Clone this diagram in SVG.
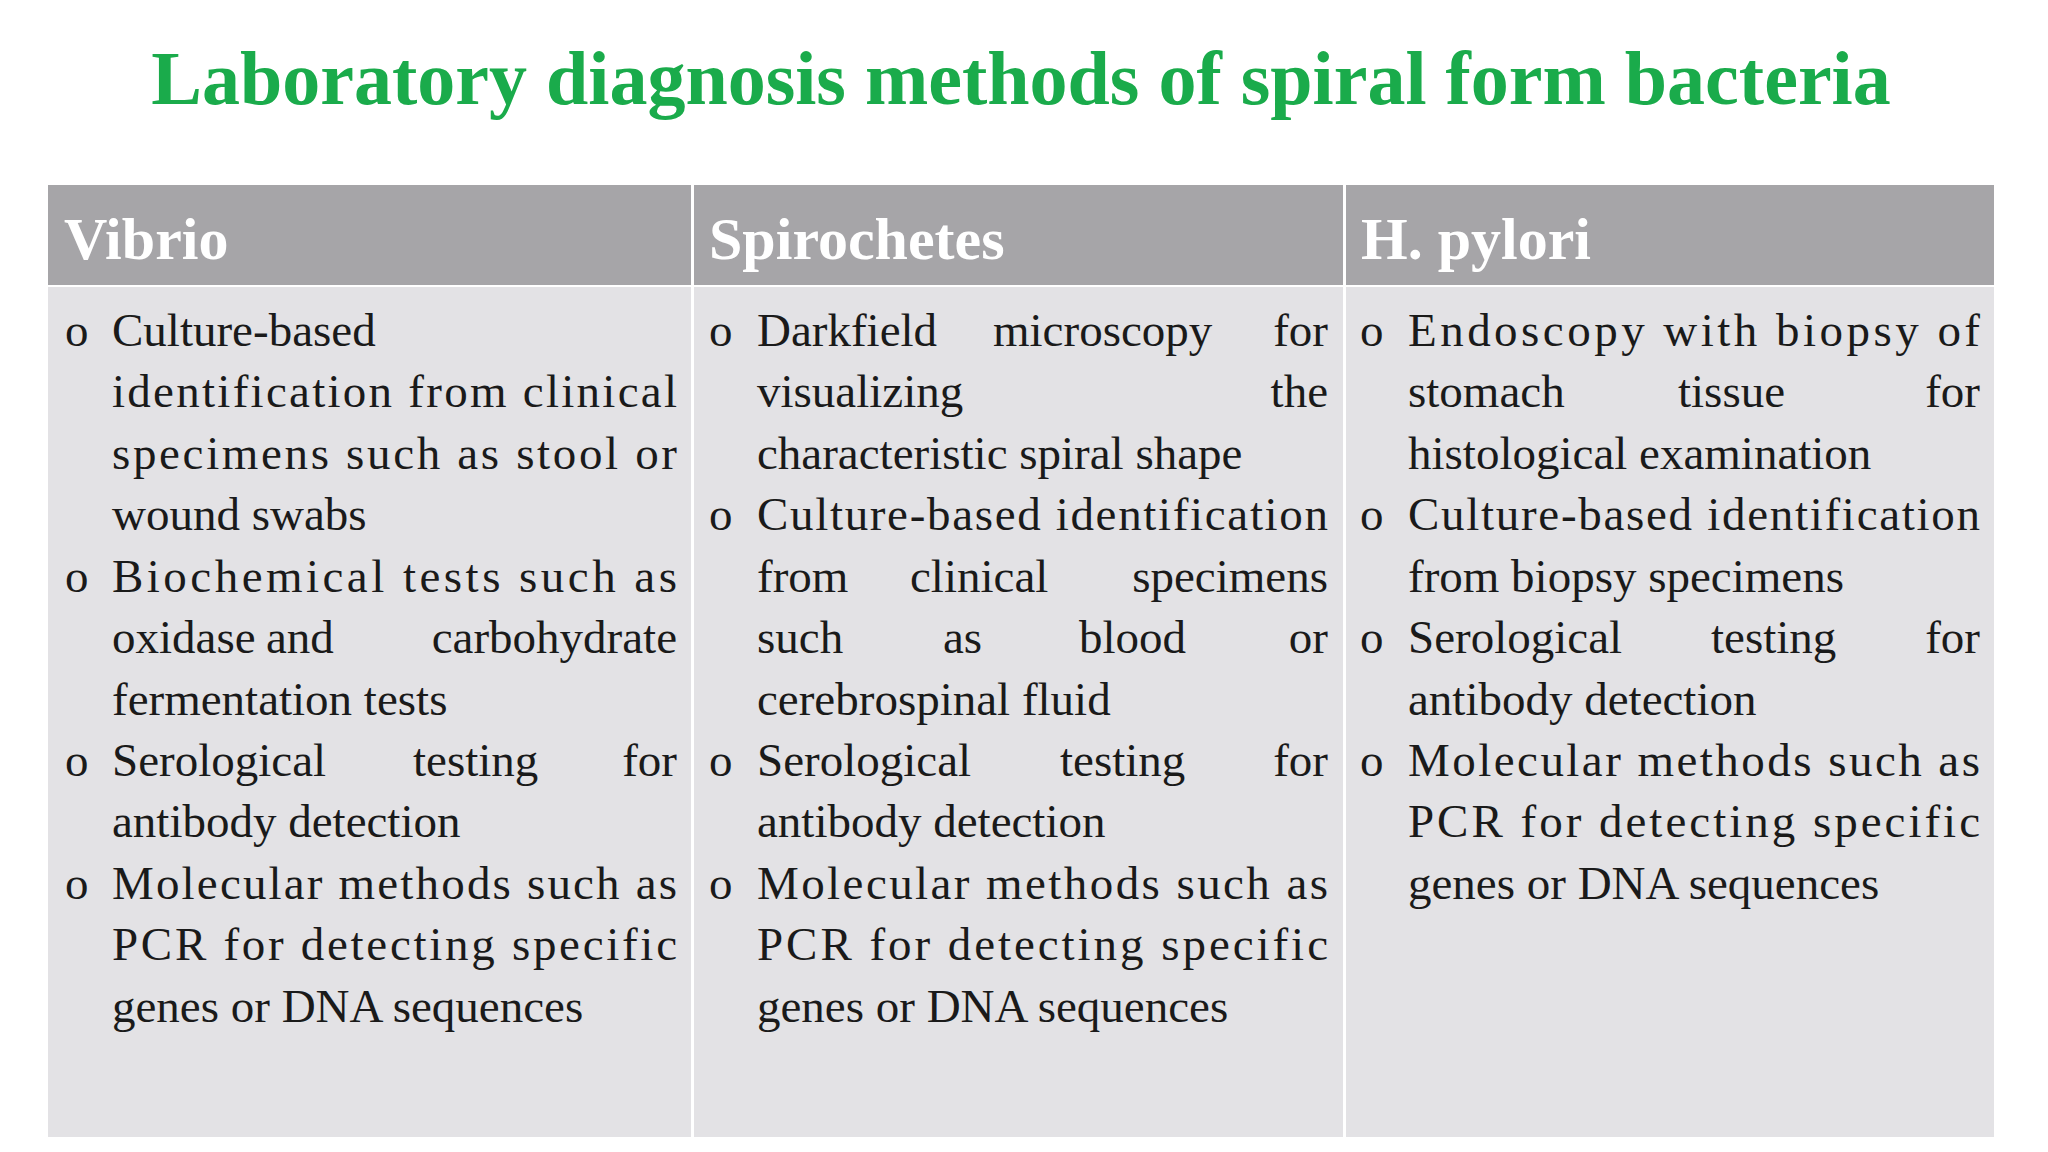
<svg xmlns="http://www.w3.org/2000/svg" width="2048" height="1152" viewBox="0 0 2048 1152">
<style>
.t{font-family:"Liberation Serif",serif;font-size:47px;fill:#1a1a1a}
.e{text-anchor:end}
.h{font-family:"Liberation Serif",serif;font-size:60px;font-weight:bold;fill:#fff}
</style>
<rect width="2048" height="1152" fill="#fff"/>
<text x="1021" y="104" text-anchor="middle" font-family="Liberation Serif,serif" font-weight="bold" font-size="76" fill="#1aab4b">Laboratory diagnosis methods of spiral form bacteria</text>
<g id="table">
<rect x="48" y="185" width="1946" height="100" fill="#a6a5a8"/>
<rect x="48" y="287" width="1946" height="850" fill="#e3e2e5"/>
<rect x="691" y="185" width="3" height="952" fill="#fff"/>
<rect x="1343" y="185" width="3" height="952" fill="#fff"/>
<rect x="48" y="285" width="1946" height="2" fill="#fff"/>
</g>
<g id="vibrio">
<text class="h" x="64" y="259">Vibrio</text>
<g class="t">
<text x="65" y="346">o</text><text x="65" y="592">o</text><text x="65" y="776">o</text><text x="65" y="899">o</text>
<text x="112" y="346">Culture-based</text>
<text x="112" y="407" textLength="565" lengthAdjust="spacing">identification from clinical</text>
<text x="112" y="469" textLength="565" lengthAdjust="spacing">specimens such as stool or</text>
<text x="112" y="530">wound swabs</text>
<text x="112" y="592" textLength="565" lengthAdjust="spacing">Biochemical tests such as</text>
<text x="112" y="653">oxidase</text><text x="266" y="653">and</text><text class="e" x="677" y="653">carbohydrate</text>
<text x="112" y="715">fermentation tests</text>
<text x="112" y="776">Serological</text><text x="413" y="776">testing</text><text class="e" x="677" y="776">for</text>
<text x="112" y="837">antibody detection</text>
<text x="112" y="899" textLength="565" lengthAdjust="spacing">Molecular methods such as</text>
<text x="112" y="960" textLength="565" lengthAdjust="spacing">PCR for detecting specific</text>
<text x="112" y="1022">genes or DNA sequences</text>
</g></g>
<g id="spirochetes">
<text class="h" x="709" y="259">Spirochetes</text>
<g class="t">
<text x="709" y="346">o</text><text x="709" y="530">o</text><text x="709" y="776">o</text><text x="709" y="899">o</text>
<text x="757" y="346">Darkfield</text><text x="993" y="346">microscopy</text><text class="e" x="1328" y="346">for</text>
<text x="757" y="407">visualizing</text><text class="e" x="1328" y="407">the</text>
<text x="757" y="469">characteristic spiral shape</text>
<text x="757" y="530" textLength="571" lengthAdjust="spacing">Culture-based identification</text>
<text x="757" y="592">from</text><text x="910" y="592">clinical</text><text class="e" x="1328" y="592">specimens</text>
<text x="757" y="653">such</text><text x="943" y="653">as</text><text x="1079" y="653">blood</text><text class="e" x="1328" y="653">or</text>
<text x="757" y="715">cerebrospinal fluid</text>
<text x="757" y="776">Serological</text><text x="1060" y="776">testing</text><text class="e" x="1328" y="776">for</text>
<text x="757" y="837">antibody detection</text>
<text x="757" y="899" textLength="571" lengthAdjust="spacing">Molecular methods such as</text>
<text x="757" y="960" textLength="571" lengthAdjust="spacing">PCR for detecting specific</text>
<text x="757" y="1022">genes or DNA sequences</text>
</g></g>
<g id="hpylori">
<text class="h" x="1361" y="259">H. pylori</text>
<g class="t">
<text x="1360" y="346">o</text><text x="1360" y="530">o</text><text x="1360" y="653">o</text><text x="1360" y="776">o</text>
<text x="1408" y="346" textLength="572" lengthAdjust="spacing">Endoscopy with biopsy of</text>
<text x="1408" y="407">stomach</text><text x="1678" y="407">tissue</text><text class="e" x="1980" y="407">for</text>
<text x="1408" y="469">histological examination</text>
<text x="1408" y="530" textLength="572" lengthAdjust="spacing">Culture-based identification</text>
<text x="1408" y="592">from biopsy specimens</text>
<text x="1408" y="653">Serological</text><text x="1711" y="653">testing</text><text class="e" x="1980" y="653">for</text>
<text x="1408" y="715">antibody detection</text>
<text x="1408" y="776" textLength="572" lengthAdjust="spacing">Molecular methods such as</text>
<text x="1408" y="837" textLength="572" lengthAdjust="spacing">PCR for detecting specific</text>
<text x="1408" y="899">genes or DNA sequences</text>
</g></g>
</svg>
